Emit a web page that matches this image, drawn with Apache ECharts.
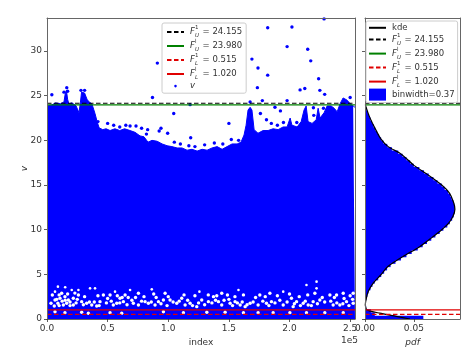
<!DOCTYPE html>
<html>
<head>
<meta charset="utf-8">
<style>html,body{margin:0;padding:0;background:#fff}</style>
<script src="https://cdn.jsdelivr.net/npm/echarts@6/dist/echarts.min.js"></script>
</head>
<body>
<div id="main" style="width:474px;height:355px"></div>
<script>
// limits
var fU1 = 24.155, fU = 23.980, fL1 = 0.515, fL = 1.020;
var binwidth = 0.37;
var indexMax = 2.54, vMax = 33.7, pdfMax = 0.0972;
var indexTicks = [0, 0.5, 1, 1.5, 2, 2.5];
var vTicks = [0, 5, 10, 15, 20, 25, 30];
var pdfTicks = [0, 0.05];

// top edge of the solid cloud of points: [index/1e5, v]
var cloudTop = [[0,23.85],[0.04,23.96],[0.07,24.2],[0.11,24.1],[0.14,24.3],[0.15,25.2],[0.16,25.6],[0.17,24.6],[0.18,24.1],[0.206,24.2],[0.24,23.85],[0.264,23.1],[0.275,24.2],[0.285,25.4],[0.31,25.3],[0.33,24.6],[0.347,24.3],[0.37,24.1],[0.396,23],[0.413,22.1],[0.43,21.4],[0.46,21.2],[0.487,21.3],[0.52,21.1],[0.56,21.3],[0.6,21.1],[0.64,21.3],[0.685,21.1],[0.726,20.9],[0.767,20.5],[0.8,20.4],[0.833,19.8],[0.866,20],[0.908,19.9],[0.95,19.6],[0.99,19.4],[1.03,19.3],[1.073,19.15],[1.114,19.15],[1.155,18.9],[1.196,19],[1.238,18.8],[1.279,19],[1.32,18.9],[1.361,19.15],[1.403,19.3],[1.444,19],[1.485,19.3],[1.526,19.6],[1.568,19.6],[1.6,19.8],[1.625,20.6],[1.642,21.7],[1.658,23.4],[1.675,23.7],[1.69,23.4],[1.708,21.2],[1.74,20.8],[1.782,21.1],[1.823,21.1],[1.865,21.3],[1.906,21.2],[1.947,21.5],[1.98,21.5],[2.005,22.5],[2.02,21.7],[2.063,21.5],[2.096,22.1],[2.12,23.4],[2.137,23.85],[2.153,22.1],[2.186,21.9],[2.22,22.3],[2.236,23.6],[2.252,22.5],[2.285,23.1],[2.31,23.85],[2.343,23.85],[2.368,23.6],[2.393,23.2],[2.417,24.1],[2.442,24.75],[2.475,24.5],[2.5,24.1],[2.525,23.85],[2.54,23.7]];

// single points standing out of the cloud
var outliers = [[1.82,32.6],[2.02,32.7],[2.285,33.6],[1.98,30.5],[2.15,30.2],[1.69,29.1],[2.175,28.9],[1.74,28.1],[1.82,27.3],[2.24,26.9],[1.735,25.9],[2.087,25.65],[2.126,25.8],[2.25,25.6],[2.29,25.15],[1.98,24.45],[1.776,24.45],[1.675,24.3],[1.88,23.7],[1.925,23.3],[1.76,23],[1.81,22.3],[1.5,21.9],[2.197,23.65],[2.5,24.8],[1.185,20.3],[0.04,25.1],[0.163,25.9],[0.87,24.8],[1.045,23],[1.18,24],[0.91,28.65],[0.42,22.1],[0.5,21.9],[0.6,21.5],[0.685,21.6],[0.734,21.6],[0.78,21.35],[0.83,21.2],[0.94,21.35],[0.925,21.05],[0.995,20.8],[0.82,20.7],[0.14,25.4],[0.17,25.5],[0.28,25.6],[0.31,25.6],
  [1.05,19.8],[1.1,19.6],[1.17,19.4],[1.22,19.3],[1.3,19.5],[1.38,19.7],[1.45,19.6],[1.52,20.1],[1.58,20],[0.55,21.7],[0.65,21.7],[1.85,21.9],[1.9,21.7],[1.95,22],[2.06,22],[2.2,22.8],[2.28,23.6]];

// gaps in the points near the bottom, these show as white specks
var gaps = [[0.044,2.69],[0.033,1.76],[0.06,1.46],[0.09,3.62],[0.066,3.06],[0.15,3.55],[0.121,2.88],[0.107,2.32],[0.148,2.5],[0.176,2.13],[0.162,1.76],[0.135,1.57],[0.09,1.76],[0.066,2.13],[0.204,3.25],[0.259,3.25],[0.217,2.32],[0.217,1.57],[0.259,2.69],[0.286,1.94],[0.327,1.76],[0.369,1.57],[0.41,1.46],[0.437,1.94],[0.355,3.43],[0.396,3.43],[0.465,2.69],[0.52,2.69],[0.561,3.06],[0.602,2.32],[0.63,1.94],[0.575,1.76],[0.547,1.57],[0.644,2.69],[0.685,3.25],[0.754,2.88],[0.712,1.76],[0.754,1.57],[0.809,1.94],[0.836,1.76],[0.066,0.82],[0.148,0.71],[0.286,0.75],[0.341,0.64],[0.52,0.71],[0.616,0.64],
  [0.864,3.32],[0.919,1.94],[0.96,2.13],[0.891,1.57],[0.974,2.88],[1.015,2.13],[1.07,1.76],[1.111,2.32],[1.139,1.57],[1.18,1.76],[1.257,3.06],[1.276,2.13],[1.235,1.38],[1.331,1.94],[1.373,2.5],[1.414,1.94],[1.441,2.88],[1.441,1.57],[1.488,2.69],[1.51,1.76],[1.551,1.94],[1.593,1.57],[1.634,1.38],[1.675,1.76],[1.579,3.25],[0.96,0.82],[1.125,0.71],[1.318,0.75],[1.469,0.75],[1.62,0.71],
  [1.755,2.69],[1.838,2.88],[1.948,3.06],[1.741,1.57],[1.81,1.76],[1.851,1.94],[1.948,1.57],[2.016,2.32],[2.058,1.94],[2.03,1.38],[2.113,1.76],[2.154,1.57],[2.209,2.88],[2.223,3.43],[2.195,1.94],[2.25,2.13],[2.333,2.69],[2.388,2.69],[2.443,2.88],[2.525,2.88],[2.36,1.57],[2.415,1.57],[2.47,1.94],[2.525,1.76],[2.223,4.18],[2.14,3.81],[1.741,0.71],[1.865,0.71],[2.003,0.71],[2.14,0.71],[2.291,0.71],[2.443,0.71],
  [0.08,2.2],[0.1,1.5],[0.125,2],[0.15,2.1],[0.19,1.9],[0.19,1.5],[0.24,1.8],[0.25,2.2],[0.3,1.6],[0.35,1.9],[0.39,1.9],[0.43,1.5],[0.49,1.8],[0.53,2],[0.6,1.8],[0.62,2.4],[0.66,1.6],[0.7,2.1],[0.73,2.4],[0.78,2],[0.86,1.9],[0.9,2.4],[0.94,1.7],[0.99,1.5],[1.04,1.9],[1.09,2],[1.16,2.1],[1.2,1.5],[1.25,1.8],[1.3,1.6],[1.36,1.8],[1.39,2.1],[1.46,2.1],[1.5,2.2],[1.53,1.5],[1.57,1.8],[1.61,1.9],[1.65,1.6],[1.7,1.9],[1.78,2],[1.83,1.5],[1.88,1.8],[1.92,2.1],[1.98,1.9],[2.04,1.7],[2.09,1.5],[2.13,2],[2.18,1.5],[2.23,1.7],[2.29,1.9],[2.34,2],[2.39,1.8],[2.44,1.7],[2.49,1.5],[2.52,2.2],
  [0.1,2.7],[0.17,2.8],[0.23,2.9],[0.31,2.5],[0.42,2.6],[0.5,2.3],[0.58,2.6],[0.67,2.4],[0.8,2.5],[0.88,2.8],[1,2.5],[1.13,2.7],[1.22,2.6],[1.33,2.7],[1.4,2.6],[1.55,2.5],[1.62,2.7],[1.72,2.4],[1.8,2.5],[1.9,2.6],[2,2.8],[2.08,2.5],[2.15,2.7],[2.27,2.4],[2.37,2.4],[2.45,2.3],[2.5,2.6]];

// histogram heights, one per bin of binwidth starting at v=0
var pdfBins = [0.0597,0.0100,0.0060,0.0012,0.0006,0.0008,0.0014,0.0024,0.0036,0.0056,0.0076,0.0100,0.0135,0.0166,0.0196,0.0226,0.0262,0.0312,0.0368,0.0424,0.0478,0.0540,0.0590,0.0634,0.0678,0.0720,0.0764,0.0802,0.0842,0.0868,0.0892,0.0908,0.0916,0.0920,0.0914,0.0904,0.0888,0.0872,0.0850,0.0816,0.0786,0.0742,0.0700,0.0652,0.0604,0.0556,0.0500,0.0462,0.0424,0.0385,0.0340,0.0275,0.0228,0.0190,0.0165,0.0144,0.0124,0.0104,0.0088,0.0072,0.0056,0.0042,0.0030,0.0018,0.0008,0.0002];

// kde curve: [pdf, v]
var kde = [[0.046,0],[0.032,0.3],[0.015,0.65],[0.002,1],[0.0003,1.6],[0.0014,2.35],[0.0034,3.1],[0.0082,4],[0.0158,4.9],[0.0237,5.9],[0.039,7],[0.056,8.1],[0.067,9],[0.0785,10],[0.0854,10.7],[0.09,11.5],[0.092,12.3],[0.0905,13.1],[0.0864,14.1],[0.0785,15],[0.065,16.1],[0.05,17.2],[0.042,18],[0.035,18.6],[0.0237,19.3],[0.016,20.2],[0.01,21.4],[0.004,22.8],[0.0003,24]];

var font = 'DejaVu Sans';
var tickColor = '#333';
var frameColor = '#666';
var blue = '#0000ff';

var legendText = {
  FU1: '{i|F}{a|U}{b|1}{n| = ' + fU1.toFixed(3) + '}',
  FU: '{i|F}{a|U}{b|l}{n| = ' + fU.toFixed(3) + '}',
  FL1: '{i|F}{a|L}{b|1}{n| = ' + fL1.toFixed(3) + '}',
  FL: '{i|F}{a|L}{b|l}{n| = ' + fL.toFixed(3) + '}',
  v: '{i|v}'
};
var rich = {
  i: { fontStyle: 'italic', fontSize: 8.5, lineHeight: 14, fontFamily: font, color: '#333' },
  a: { fontStyle: 'italic', fontSize: 5.5, width: 0, fontFamily: font, color: '#333', verticalAlign: 'bottom' },
  b: { fontSize: 5.5, fontFamily: font, width: 5, color: '#333', verticalAlign: 'top' },
  n: { fontSize: 8.5, lineHeight: 14, fontFamily: font, color: '#333' }
};
// a line series always gets a marker in its legend icon, hide it
var noMarker = { opacity: 0 };
function lineItem(name) { return { name: name, itemStyle: noMarker }; }
// small dot inside an empty 20x12 box, corners keep the box size
var dotIcon = 'path://M0 0L0 0M200 120L200 120M85 60A15 15 0 1 1 115 60A15 15 0 1 1 85 60Z';

function limitLines(xMax, xIdx, yIdx) {
  function one(name, val, color, type) {
    return {
      name: name, type: 'line', xAxisIndex: xIdx, yAxisIndex: yIdx, showSymbol: false, symbol: 'none', z: 5,
      data: [[0, val], [xMax, val]],
      lineStyle: { color: color, width: 1.2, type: type }, itemStyle: { color: color }
    };
  }
  return [
    one('FU1', fU1, '#000', [4.5, 2.5]),
    one('FU', fU, '#008000', 'solid'),
    one('FL1', fL1, '#e00000', [4.5, 2.5]),
    one('FL', fL, '#e00000', 'solid')
  ];
}

function frameAxes(kind, gridIndex) {
  // top and right spines, they have to sit over the blue marks
  return {
    type: 'value', gridIndex: gridIndex, position: kind == 'x' ? 'top' : 'right', min: 0, max: 1, z: 6,
    axisLine: { show: true, onZero: false, lineStyle: { color: frameColor, width: 1 } },
    axisTick: { show: false }, axisLabel: { show: false }, splitLine: { show: false }
  };
}

function mainAxis(pos, gridIndex, max, ticks, fmt, extra) {
  var a = {
    type: 'value', gridIndex: gridIndex, position: pos, min: 0, max: max, z: 6,
    axisLine: { show: true, onZero: false, lineStyle: { color: frameColor, width: 1 } },
    axisTick: { show: true, length: 3, lineStyle: { color: '#333', width: 0.8 }, customValues: ticks },
    axisLabel: { show: fmt != null, customValues: ticks, formatter: fmt, color: tickColor, fontFamily: font, fontSize: 9, margin: 5 },
    splitLine: { show: false }
  };
  for (var k in extra) a[k] = extra[k];
  return a;
}

var chart = echarts.init(document.getElementById('main'));
chart.setOption({
  animation: false,
  grid: [
    { left: 47, top: 18, width: 308, height: 301 },
    { left: 365, top: 18, width: 95, height: 301 }
  ],
  xAxis: [
    mainAxis('bottom', 0, indexMax, indexTicks, function (v) { return v.toFixed(1); },
      { name: 'index', nameLocation: 'middle', nameGap: 19, nameMoveOverlap: false, nameTextStyle: { color: tickColor, fontFamily: font, fontSize: 9 } }),
    mainAxis('bottom', 1, pdfMax, pdfTicks, function (v) { return v.toFixed(2); },
      { name: 'pdf', nameLocation: 'middle', nameGap: 19, nameMoveOverlap: false, nameTextStyle: { color: tickColor, fontFamily: font, fontSize: 9, fontStyle: 'italic' } }),
    frameAxes('x', 0),
    frameAxes('x', 1)
  ],
  yAxis: [
    mainAxis('left', 0, vMax, vTicks, function (v) { return String(v); },
      { name: 'v', nameLocation: 'middle', nameGap: 18, nameMoveOverlap: false, nameTextStyle: { color: tickColor, fontFamily: font, fontSize: 9, fontStyle: 'italic' } }),
    mainAxis('left', 1, vMax, vTicks, null, {}),
    frameAxes('y', 0),
    frameAxes('y', 1)
  ],
  legend: [
    {
      left: 162, top: 23, orient: 'vertical', selectedMode: false, padding: [2, 4, 2, 4], itemGap: 0, itemWidth: 17, itemHeight: 12,
      backgroundColor: 'rgba(255,255,255,0.85)', borderColor: '#ccc', borderWidth: 1, borderRadius: 2, z: 10,
      data: [lineItem('FU1'), lineItem('FU'), lineItem('FL1'), lineItem('FL'), { name: 'v', icon: dotIcon }],
      formatter: function (n) { return legendText[n]; },
      textStyle: { rich: rich, fontSize: 8.5, fontFamily: font, color: '#333', padding: [0, 0, 0, 1] }
    },
    {
      left: 366, top: 21, orient: 'vertical', selectedMode: false, padding: [2, 3, 2, 2], itemGap: 0, itemWidth: 17, itemHeight: 12,
      backgroundColor: 'rgba(255,255,255,0.85)', borderColor: '#ccc', borderWidth: 1, borderRadius: 2, z: 10,
      data: [lineItem('kde'), lineItem('FU1'), lineItem('FU'), lineItem('FL1'), lineItem('FL'), { name: 'binwidth=' + binwidth, icon: 'rect' }],
      formatter: function (n) { return legendText[n] || n; },
      textStyle: { rich: rich, fontSize: 8.5, fontFamily: font, color: '#333', padding: [0, 0, 0, 1] }
    }
  ],
  graphic: [
    { type: 'text', left: 341, top: 336, style: { text: '1e5', fill: tickColor, font: '9px "DejaVu Sans"' } }
  ],
  series: [
    {
      name: 'cloud', type: 'line', xAxisIndex: 0, yAxisIndex: 0, showSymbol: false, symbol: 'none', z: 1,
      data: cloudTop, lineStyle: { color: blue, width: 1 }, areaStyle: { color: blue, opacity: 1 }
    },
    {
      name: 'v', type: 'scatter', xAxisIndex: 0, yAxisIndex: 0, symbolSize: 3.4, z: 2,
      data: outliers, itemStyle: { color: blue, opacity: 1 }
    },
    {
      name: 'gaps', type: 'scatter', xAxisIndex: 0, yAxisIndex: 0, z: 3,
      symbolSize: function (d) { return d[1] < 3 ? 3.4 : 2.6; },
      data: gaps, itemStyle: { color: '#fff', opacity: 1 }
    }
  ].concat(limitLines(indexMax, 0, 0)).concat([
    {
      name: 'binwidth=' + binwidth, type: 'custom', xAxisIndex: 1, yAxisIndex: 1, z: 2, clip: true,
      data: pdfBins.map(function (p, i) { return [p, i * binwidth]; }),
      encode: { x: 0, y: 1 },
      itemStyle: { color: blue },
      renderItem: function (params, api) {
        var start = api.coord([0, api.value(1)]);
        var end = api.coord([api.value(0), api.value(1) + binwidth]);
        return {
          type: 'rect',
          shape: { x: start[0], y: end[1], width: end[0] - start[0], height: start[1] - end[1] + 1 },
          style: { fill: blue }
        };
      }
    },
    {
      name: 'kde', type: 'line', xAxisIndex: 1, yAxisIndex: 1, showSymbol: false, symbol: 'none', z: 4, smooth: 0.2,
      data: kde, lineStyle: { color: '#000', width: 1.2 }, itemStyle: { color: '#000' }
    }
  ]).concat(limitLines(pdfMax, 1, 1))
});
</script>
</body>
</html>
